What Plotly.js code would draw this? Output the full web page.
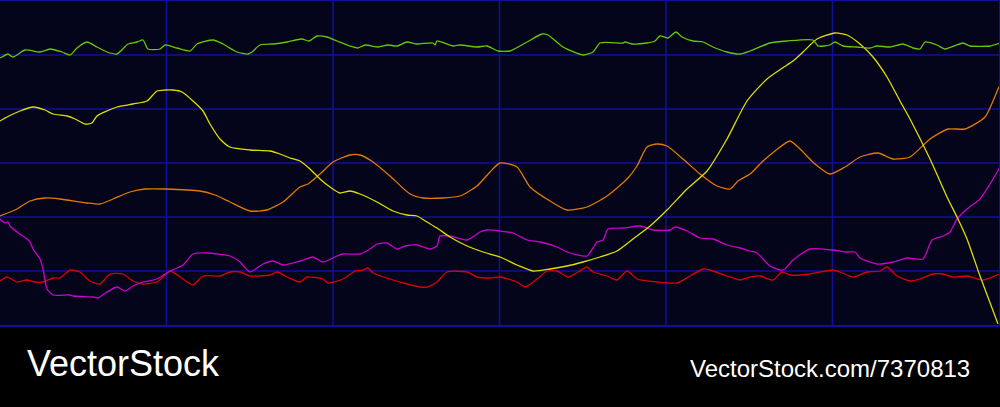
<!DOCTYPE html>
<html>
<head>
<meta charset="utf-8">
<script src="https://cdn.plot.ly/plotly-3.0.1.min.js"></script>
<style>
html,body{margin:0;padding:0;background:#000;}
#chart{width:1000px;height:407px;}
</style>
</head>
<body>
<div id="chart"></div>
<script>
// Time axis (arbitrary units 0..1000) and values (arbitrary units 0..324)
const greenX = [0,2,8,13,25,40,50,62,70,77,87,97,107,117,128,137,143,148,160,165,177,190,197,213,223,237,248,252,260,273,287,302,309,317,327,337,350,358,365,378,388,397,407,417,433,435,437,453,460,477,487,498,510,527,542,548,563,583,593,600,623,625,632,647,655,660,668,676,682,693,703,713,727,740,750,770,787,813,818,830,835,843,857,870,877,890,903,913,920,925,937,945,963,970,990,1000];
const greenY = [267,268,271,268,275,273,276,273,270,277,283,278,273,271,281,283,285,276,276,280,277,274,281,285,281,273,271,273,280,281,283,286,284,289,288,284,279,277,280,278,280,279,283,281,282,280,284,279,280,278,279,274,274,283,291,290,278,270,273,282,282,283,281,282,284,289,287,293,288,284,283,278,273,271,274,282,284,285,279,280,283,279,278,277,279,278,281,277,276,283,280,276,282,279,279,282];

const yellowX = [0,7,20,33,45,53,67,75,85,92,97,117,133,147,157,165,173,182,193,203,210,220,230,250,270,280,290,300,310,320,330,340,350,360,377,393,407,417,427,437,450,467,483,500,517,533,550,567,583,600,617,633,650,667,687,707,727,747,767,787,793,803,817,835,847,860,873,887,900,910,930,948,957,967,980,998];
const yellowY = [204,208,214,218,215,211,209,206,201,202,209,218,221,224,234,235,235,233,224,214,201,186,178,175,174,171,167,164,156,146,138,132,134,131,123,114,110,109,103,97,88,79,73,68,60,54,56,59,63,68,74,86,99,115,136,154,186,224,246,260,264,273,286,292,290,281,268,248,224,206,166,126,108,86,49,1];

const orangeX = [0,17,30,45,60,87,100,113,130,145,165,200,215,230,250,267,283,300,308,320,333,350,360,373,390,410,423,443,460,477,490,500,517,530,550,567,587,607,627,637,647,657,667,683,700,717,730,738,750,762,775,790,800,815,830,845,860,878,893,910,930,948,965,985,998,1000];
const orangeY = [109,116,124,127,126,122,121,126,133,136,136,134,130,123,114,115,123,138,141,151,163,170,170,163,149,131,127,127,129,139,153,162,158,138,124,115,118,129,146,159,178,181,179,166,151,139,136,144,151,163,174,184,176,161,151,158,168,172,166,168,186,196,196,208,236,240];

const magentaX = [0,2,5,8,10,17,27,30,33,40,43,47,53,70,73,93,98,107,117,125,133,143,157,165,170,183,193,207,230,240,250,263,273,283,300,313,323,337,343,360,370,377,387,397,405,417,430,437,440,450,467,480,487,500,513,527,540,557,567,587,597,603,608,623,640,653,670,675,687,700,713,727,740,750,757,770,780,785,793,810,833,847,855,860,877,893,907,923,932,943,950,957,967,980,990,1000];
const magentaY = [106,104,102,103,99,93,86,83,76,66,56,36,30,30,29,28,27,33,38,34,39,43,46,51,54,60,71,72,69,63,53,61,64,60,64,68,63,69,71,71,76,81,82,76,79,80,76,79,89,89,85,93,95,94,92,85,83,78,73,69,83,85,96,97,99,95,95,98,94,87,86,80,77,74,72,59,55,56,65,76,75,73,73,67,61,63,67,66,85,89,93,106,116,126,141,158];

const redX = [0,7,17,27,35,43,53,60,65,70,80,90,100,110,123,133,143,157,163,170,183,193,203,220,230,240,250,270,277,287,300,307,323,328,343,355,363,368,373,390,407,420,427,437,447,467,477,490,500,517,525,537,547,557,568,578,587,593,607,617,627,637,657,677,690,703,710,727,740,750,760,773,782,790,810,820,833,840,853,867,880,887,897,910,920,933,943,953,967,983,997,1000];
const redY = [44,48,43,45,43,43,47,47,51,55,53,44,41,51,51,44,41,43,48,54,46,40,49,49,53,53,49,50,53,48,43,48,46,42,46,54,55,57,52,46,41,38,38,43,53,53,48,47,48,43,38,46,54,54,48,53,58,53,49,45,54,46,43,42,49,56,55,49,45,48,49,45,53,50,51,53,55,53,48,53,54,58,49,44,46,51,51,48,49,45,50,51];

// grid positions (axis units)
const gridXs = [166.5, 333, 499.5, 666, 832.5];
const gridYs = [54, 108, 162, 216, 270];

const seriesList = [
  {name:'red', x:redX, y:redY, color:'#dd0000'},
  {name:'magenta', x:magentaX, y:magentaY, color:'#cc00cc'},
  {name:'orange', x:orangeX, y:orangeY, color:'#e07a00'},
  {name:'yellow', x:yellowX, y:yellowY, color:'#dede00'},
  {name:'green', x:greenX, y:greenY, color:'#66c800'}
];

const traces = seriesList.map(s => ({
  type:'scatter', mode:'lines', name:s.name, x:s.x, y:s.y,
  line:{color:s.color, width:1.3, shape:'spline', smoothing:0.6},
  hoverinfo:'skip'
}));

const gridCol = '#10109a';
const shapes = [];
gridXs.forEach(v => shapes.push({type:'line', xref:'x', yref:'paper', x0:v, x1:v, y0:0, y1:1, layer:'below', line:{color:gridCol, width:1.5}}));
gridYs.forEach(v => shapes.push({type:'line', xref:'paper', yref:'y', x0:0, x1:1, y0:v, y1:v, layer:'below', line:{color:gridCol, width:1.5}}));

const layout = {
  width:1000, height:407,
  margin:{l:0, r:1, t:1, b:82, pad:0},
  paper_bgcolor:'#000000',
  plot_bgcolor:'#04041a',
  showlegend:false,
  shapes:shapes,
  xaxis:{range:[0,999], showgrid:false,
         zeroline:false, showticklabels:false, ticks:'', showline:true, linecolor:gridCol, linewidth:1.5, mirror:true, fixedrange:true},
  yaxis:{range:[0,324], showgrid:false,
         zeroline:false, showticklabels:false, ticks:'', showline:true, linecolor:gridCol, linewidth:1.5, mirror:true, fixedrange:true},
  annotations:[
    {text:'VectorStock', xref:'paper', yref:'paper', x:0.025, y:-0.12, xanchor:'left', yanchor:'middle',
     showarrow:false, font:{family:'Liberation Sans, Arial, sans-serif', size:36, color:'#ffffff'}},
    {text:'VectorStock.com/7370813', xref:'paper', yref:'paper', x:0.973, y:-0.134, xanchor:'right', yanchor:'middle',
     showarrow:false, font:{family:'Liberation Sans, Arial, sans-serif', size:24, color:'#ffffff'}}
  ]
};

Plotly.newPlot('chart', traces, layout, {staticPlot:true, displayModeBar:false});
</script>
</body>
</html>
